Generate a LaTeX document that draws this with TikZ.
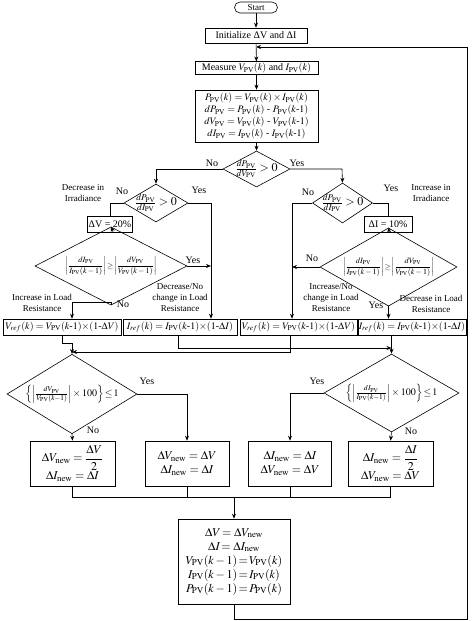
\documentclass[tikz,border=0pt]{standalone}
\usepackage{amsmath}
\usepackage{mathptmx}
\usepackage{fontspec}
\setmainfont{Liberation Serif}
\usetikzlibrary{arrows.meta,shapes.geometric}

\newcommand{\PV}{_{\mathrm{PV}}}
\newcommand{\nw}{_{\mathrm{new}}}

\begin{document}
\begin{tikzpicture}[
  x=1pt, y=-1pt,
  font=\normalsize,
  line width=0.6pt,
  >={Stealth[length=5pt, width=4pt]},
  proc/.style={draw, align=center, inner xsep=1pt, inner ysep=0pt},
  refbox/.style={proc, minimum height=16pt},
  newbox/.style={proc, minimum height=45pt, font=\large},
  dia/.style={draw, diamond, inner sep=-8pt, align=center},
  term/.style={draw, rounded corners=5.5pt, minimum width=43pt,
               minimum height=11pt, inner sep=0pt, font=\small},
  lab/.style={font=\small, align=center, inner sep=0pt},
  yn/.style={inner sep=0pt}
]
\useasboundingbox (0,0) rectangle (474,621);

% ---------- top ----------
\node[term] (start) at (256,7.5) {Start};
\node[proc, minimum width=102pt, minimum height=15pt] (init) at (256,35.5) {Initialize ΔV and ΔI};
\node[proc, minimum width=123pt, minimum height=12.5pt] (meas) at (256.5,68)
  {Measure $V\PV(k)$ and $I\PV(k)$};
\node[proc, minimum width=123pt, minimum height=52pt] (eqs) at (256.5,116)
  {$P\PV(k) = V\PV(k)\times I\PV(k)$\\
   $dP\PV = P\PV(k)$ - $P\PV(k\text{-}1)$\\
   $dV\PV = V\PV(k)$ - $V\PV(k\text{-}1)$\\
   $dI\PV = I\PV(k)$ - $I\PV(k\text{-}1)$};

\draw[->] (start) -- (init);
\draw[->] (init) -- (meas);
\draw[->] (meas) -- (eqs);

% ---------- decisions ----------
\node[dia, font=\large, minimum width=67pt, minimum height=36pt] (d1) at (256.5,169) {$\frac{dP\PV}{dV\PV}>0$};
\node[dia, font=\large, minimum width=64pt, minimum height=38pt] (d2) at (156,203) {$\frac{dP\PV}{dI\PV}>0$};
\node[dia, font=\large, minimum width=60pt, minimum height=40pt] (d3) at (342.5,203) {$\frac{dP\PV}{dI\PV}>0$};
\node[proc, minimum width=44pt, minimum height=16pt] (dv20) at (110,224) {ΔV = 20\%};
\node[proc, minimum width=48pt, minimum height=16pt] (di10) at (388,224) {ΔI = 10\%};
\node[dia, minimum width=152pt, minimum height=57pt] (d4) at (111,266)
  {\footnotesize$\left|\dfrac{dI\PV}{I\PV(k-1)}\right|\!\geq\!\left|\dfrac{dV\PV}{V\PV(k-1)}\right|$};
\node[dia, minimum width=137pt, minimum height=60pt] (d7) at (388.5,267)
  {\footnotesize$\left|\dfrac{dI\PV}{I\PV(k-1)}\right|\!\geq\!\left|\dfrac{dV\PV}{V\PV(k-1)}\right|$};

\draw[->] (eqs) -- (d1);
\coordinate (b1) at (156,169);
\coordinate (b5) at (342,169);
\draw[->] (d1.west) -- (b1) -- (d2.north);
\draw[->] (d1.east) -- (b5) -- (d3.north);
\draw (d2.west) -| (dv20.north);
\draw[->] (dv20) -- (d4.north);
\draw (d3.east) -| (di10.north);
\draw[->] (di10) -- (d7.north);

% ---------- reference boxes ----------
\node[refbox, minimum width=118pt] (vref1) at (62,327)
  {$V_{ref}(k) = V\PV(k\text{-}1){\times}(1\text{-}\Delta V)$};
\node[refbox, minimum width=114pt] (iref1) at (180,327)
  {$I_{ref}(k) = I\PV(k\text{-}1){\times}(1\text{-}\Delta I)$};
\node[refbox, minimum width=117pt] (vref2) at (298.5,327)
  {$V_{ref}(k) = V\PV(k\text{-}1){\times}(1\text{-}\Delta V)$};
\node[refbox, minimum width=106pt] (iref2) at (412,327)
  {$I_{ref}(k) = I\PV(k\text{-}1){\times}(1\text{-}\Delta I)$};

\coordinate (b2) at (211,203);
\coordinate (b3) at (292,203);
\coordinate (b4) at (72,302);
\draw (d2.east) -- (b2);
\draw[->] (b2) -- (b2 |- iref1.north);
\draw[->] (d4.east) -- (b2 |- d4.east);
\draw[->] (d4.south) |- (b4) -- (b4 |- vref1.north);
\draw (d3.west) -- (b3);
\draw[->] (b3) -- (b3 |- vref2.north);
\draw[->] (d7.west) -- (b3 |- d7.west);
\draw[->] (d7.south) -- (d7.south |- iref2.north);

% ---------- step size decisions ----------
\node[dia, minimum width=130pt, minimum height=62pt] (d5) at (72,394)
  {$\left\{\left|\frac{dV\PV}{V\PV(k-1)}\right|\times100\right\}\!\leq\!1$};
\node[dia, minimum width=135pt, minimum height=60pt] (d6) at (391.5,393)
  {$\left\{\left|\frac{dI\PV}{I\PV(k-1)}\right|\times100\right\}\!\leq\!1$};

\coordinate (j1) at (72,343);
\coordinate (k2) at (178,348);
\coordinate (k3) at (290,352);
\draw[->] (vref1.south) |- (j1) -- (d5.north);
\draw[->] (k3 |- vref2.south) -- (k3) -- (d5.north |- k3);
\draw[->] (k2 |- iref1.south) -- (k2) -- (d6.north |- k2);
\draw[->] (d6.north |- iref2.south) -- (d6.north);

\node[newbox, minimum width=85pt] (n1) at (72.5,463.5)
  {$\Delta V\nw = \dfrac{\Delta V}{2}$\\ $\Delta I\nw = \Delta I$};
\node[newbox, minimum width=84pt] (n2) at (187,463.5)
  {$\Delta V\nw = \Delta V$\\ $\Delta I\nw = \Delta I$};
\node[newbox, minimum width=83pt] (n3) at (290,463.5)
  {$\Delta I\nw = \Delta I$\\ $\Delta V\nw = \Delta V$};
\node[newbox, minimum width=85pt] (n4) at (390.5,463.5)
  {$\Delta I\nw = \dfrac{\Delta I}{2}$\\ $\Delta V\nw = \Delta V$};

\draw[->] (d5.east) -| (n2.north);
\draw[->] (d5.south) -- (n1.north);
\draw[->] (d6.west) -| (n3.north);
\draw[->] (d6.south) -- (n4.north);

% ---------- update and loop ----------
\node[proc, minimum width=112pt, minimum height=85pt, font=\large] (fin) at (234,561.5)
  {$\Delta V\!= \Delta V\nw$\\
   $\Delta I\!= \Delta I\nw$\\
   $V\PV(k-1)\!=\!V\PV(k)$\\
   $I\PV(k-1)\!=\!I\PV(k)$\\
   $P\PV(k-1)\!=\!P\PV(k)$};

\coordinate (jb) at (234,497);
\draw (n1.south) |- (n4.south |- jb) -- (n4.south);
\draw (n2.south) -- (n2.south |- jb);
\draw (n3.south) -- (n3.south |- jb);
\draw[->] (jb) -- (fin.north);

\coordinate (rt) at (467.5,619);
\coordinate (back) at (256,47);
\draw[->] (fin.south) |- (rt) |- (back);

% ---------- labels ----------
\node[yn] (y1n) at (212,163) {No};
\node[yn] (y1y) at (297,163) {Yes};
\node[yn] (y2n) at (122,191) {No};
\node[yn] (y2y) at (199,190) {Yes};
\node[yn] (y3n) at (308,192) {No};
\node[yn] (y3y) at (391,188) {Yes};
\node[yn] (y4y) at (193,260) {Yes};
\node[yn] (y4n) at (123,304) {No};
\node[yn] (y7n) at (312,258) {No};
\node[yn] (y7y) at (376,305) {Yes};
\node[yn] (y5y) at (147,381) {Yes};
\node[yn] (y5n) at (93,430) {No};
\node[yn] (y6y) at (317,381) {Yes};
\node[yn] (y6n) at (411,431) {No};

\node[lab] (irrdn) at (83,193) {Decrease in\\Irradiance};
\node[lab] (irrup) at (431,193) {Increase in\\Irradiance};
\node[lab] (ldup1) at (42,303) {Increase in Load\\Resistance};
\node[lab] (lddn1) at (180,298) {Decrease/No\\change in Load\\Resistance};
\node[lab] (ldup2) at (331,298) {Increase/No\\change in Load\\Resistance};
\node[lab] (lddn2) at (431,304) {Decrease in Load\\Resistance};

\end{tikzpicture}
\end{document}
